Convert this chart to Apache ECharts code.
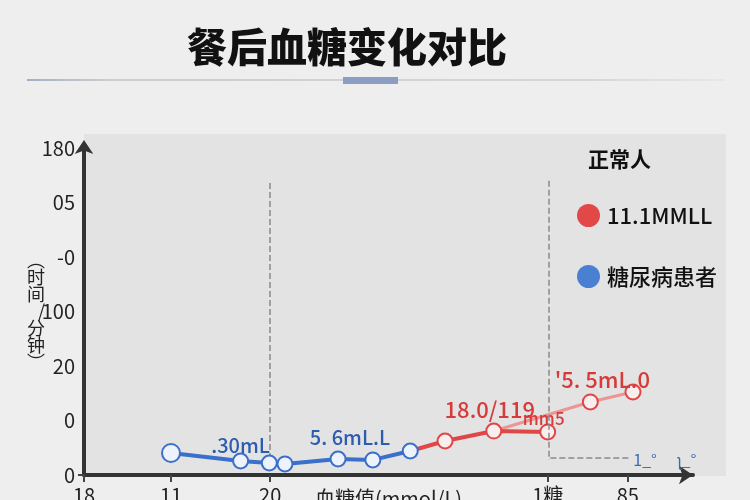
<!DOCTYPE html>
<html>
<head>
<meta charset="utf-8">
<script src="https://cdn.jsdelivr.net/npm/echarts@6/dist/echarts.min.js"></script>
<style>
  html, body { margin: 0; padding: 0; background: #eeeeee; }
  #chart { width: 750px; height: 500px; }
</style>
</head>
<body>
<div id="chart"></div>
<script>
// ---- data ----
const titleText = '餐后血糖变化对比';
const legendTitle = '正常人';
const redName = '11.1MMLL';
const blueName = '糖尿病患者';
const xAxisName = '血糖值(mmol/L)';
const yAxisName = '︵\n时\n间\n/\n分\n钟\n︶';

const yTickLabels = ['0', '0', '20', '100', '-0', '05', '180'];
const xTickValues = [0, 10, 21.4, 53.3, 62.5];
const xTickLabels = ['18', '11', '20', '1糖', '85'];

const blueX = [10, 18.0, 21.3, 23.1, 29.2, 33.2, 37.5];
const blueY = [12.1, 7.7, 6.6, 6.1, 8.8, 8.3, 13.2];
const blueLabels = ['', '.30mL', '', '', '5. 6mL.L', '', ''];

const redX = [37.5, 41.5, 47.1, 53.3];
const redY = [13.2, 18.7, 24.2, 23.7];
const redLabels = ['', '', '18.0/119', 'mm5'];

const pinkX = [47.1, 58.2, 63.1];
const pinkY = [24.2, 40.2, 45.7];
const pinkLabels = ['', '\'5. 5mL.0', ''];

const dashedSegments = [
  [[21.4, 160.7], [21.4, 5.5]],
  [[53.4, 162.0], [53.4, 8.3]],
  [[53.6, 9.4], [62.8, 9.4]]
];
const noteTexts = ['1_°', 'ʅ_°'];
const notePositions = [[64.5, 8.3], [69.3, 8.3]];

// ---- build ----
const FONT = '"Noto Sans CJK SC", "Noto Sans", sans-serif';
const BLUE = '#3a6fcb';
const RED = '#e04646';

function pts(xs, ys, labels, labelStyles) {
  return xs.map((x, i) => {
    const item = { value: [x, ys[i]] };
    if (labels[i]) {
      item.label = Object.assign({ show: true, formatter: labels[i], position: 'top' }, labelStyles[labels[i]] || {});
    }
    return item;
  });
}

const blueLabelStyle = {
  '.30mL': { offset: [0, 8], color: '#2c5bb0', fontSize: 20, fontWeight: 500 },
  '5. 6mL.L': { offset: [12, 2], color: '#2c5bb0', fontSize: 20, fontWeight: 500 }
};
const redLabelStyle = {
  '18.0/119': { offset: [-4, 3], color: '#d63a3a', fontSize: 22, fontWeight: 500 },
  'mm5': { offset: [-4, 9], color: '#d63a3a', fontSize: 17, fontWeight: 500 }
};
const pinkLabelStyle = {
  '\'5. 5mL.0': { offset: [12, 2], color: '#d63a3a', fontSize: 22, fontWeight: 500 }
};

const blueData = pts(blueX, blueY, blueLabels, blueLabelStyle);
blueData[0].symbolSize = 18;
const redData = pts(redX, redY, redLabels, redLabelStyle);
redData[0].symbol = 'none';
const pinkData = pts(pinkX, pinkY, pinkLabels, pinkLabelStyle);
pinkData[0].symbol = 'none';

const chart = echarts.init(document.getElementById('chart'), null, { renderer: 'canvas' });

chart.setOption({
  backgroundColor: '#eeeeee',
  textStyle: { fontFamily: FONT },
  animation: false,
  title: [
    {
      text: titleText, left: 182, top: 22,
      textStyle: { fontSize: 40, fontWeight: 900, color: '#111', fontFamily: FONT }
    },
    {
      text: legendTitle, left: 583, top: 144,
      textStyle: { fontSize: 21, fontWeight: 'bold', color: '#111', fontFamily: FONT }
    }
  ],
  legend: {
    orient: 'vertical', left: 572, top: 199,
    itemWidth: 23, itemHeight: 23, itemGap: 38,
    icon: 'circle',
    textStyle: { fontSize: 22, fontWeight: 500, color: '#111', fontFamily: FONT, padding: [0, 0, 0, 2] },
    data: [
      { name: redName, itemStyle: { color: '#e34848', borderWidth: 0 } },
      { name: blueName, itemStyle: { color: '#4a80d2', borderWidth: 0 } }
    ]
  },
  graphic: [
    { type: 'rect', z: -10, shape: { x: 84, y: 134, width: 642, height: 342 }, style: { fill: '#e3e3e3' } },
    {
      type: 'line', shape: { x1: 27, y1: 80, x2: 725, y2: 80 },
      style: {
        lineWidth: 2,
        stroke: new echarts.graphic.LinearGradient(0, 0, 1, 0, [
          { offset: 0, color: '#a4aec4' },
          { offset: 0.12, color: '#cdcdcd' },
          { offset: 0.8, color: '#d6d6d6' },
          { offset: 1, color: '#e8e8e8' }
        ])
      }
    },
    { type: 'rect', shape: { x: 343, y: 77, width: 55, height: 7 }, style: { fill: '#8b9dc2' } }
  ],
  grid: { left: 84, right: 57, top: 148, bottom: 25, containLabel: false, outerBoundsMode: 'none' },
  xAxis: {
    type: 'value', min: 0, max: 70,
    name: xAxisName, nameLocation: 'middle', nameGap: 13, nameMoveOverlap: false,
    nameTextStyle: { fontSize: 20, color: '#222', fontFamily: FONT },
    axisLine: { show: true, symbol: ['none', 'arrow'], symbolSize: [14, 14], lineStyle: { color: '#333', width: 4 } },
    axisTick: { show: true, customValues: xTickValues, length: 7, lineStyle: { color: '#444', width: 2 } },
    axisLabel: {
      customValues: xTickValues, fontSize: 20, color: '#222', margin: 10,
      formatter: (v) => { const i = xTickValues.indexOf(v); return i >= 0 ? xTickLabels[i] : ''; }
    },
    splitLine: { show: false }
  },
  yAxis: {
    type: 'value', min: 0, max: 180, interval: 30,
    name: yAxisName, nameLocation: 'middle', nameGap: 39, nameRotate: 0, nameMoveOverlap: false,
    nameTextStyle: { fontSize: 18, lineHeight: 17, color: '#222', fontFamily: FONT, padding: [20, 0, 0, 0] },
    axisLine: { show: true, symbol: ['none', 'arrow'], symbolSize: [14, 14], symbolOffset: [0, 8], lineStyle: { color: '#333', width: 4 } },
    axisTick: { show: true, customValues: [0], length: 6, lineStyle: { color: '#444', width: 2 } },
    axisLabel: {
      fontSize: 20, color: '#222', margin: 9,
      formatter: (v) => yTickLabels[Math.round(v / 30)]
    },
    splitLine: { show: true, lineStyle: { color: 'rgba(255,255,255,0.35)', width: 2 } }
  },
  series: [
    {
      name: 'pink', type: 'line', data: pinkData,
      symbol: 'circle', symbolSize: 15, z: 3,
      lineStyle: { color: '#ec9595', width: 3 },
      itemStyle: { color: '#f8eeee', borderColor: RED, borderWidth: 2 }
    },
    {
      name: redName, type: 'line', data: redData,
      symbol: 'circle', symbolSize: 15, z: 4,
      lineStyle: { color: RED, width: 4 },
      itemStyle: { color: '#f8eeee', borderColor: RED, borderWidth: 2 }
    },
    {
      name: blueName, type: 'line', data: blueData,
      symbol: 'circle', symbolSize: 15, z: 5,
      lineStyle: { color: BLUE, width: 4 },
      itemStyle: { color: '#eef3fb', borderColor: BLUE, borderWidth: 2 },
      markLine: {
        silent: true, symbol: 'none', label: { show: false },
        lineStyle: { type: 'dashed', color: '#8a8a8a', width: 1.5 },
        data: dashedSegments.map(s => [{ coord: s[0] }, { coord: s[1] }])
      },
      markPoint: {
        silent: true, symbol: 'circle', symbolSize: 0,
        label: { show: true, formatter: '{b}', color: '#3a6ab8', fontSize: 16, position: 'inside' },
        data: noteTexts.map((t, i) => ({ name: t, coord: notePositions[i] }))
      }
    }
  ]
});
</script>
</body>
</html>
